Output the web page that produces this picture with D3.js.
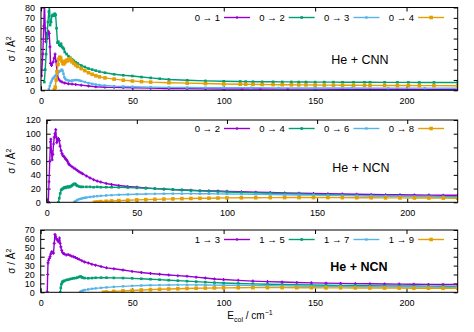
<!DOCTYPE html>
<html><head><meta charset="utf-8">
<script src="https://cdn.jsdelivr.net/npm/d3@7"></script>
<style>body{margin:0;background:#fff}svg{display:block;font-family:"Liberation Sans",Arial,sans-serif}</style>
</head><body><script>
// ---------- DATA ----------
const xTicks = [0, 50, 100, 150, 200];
const seriesColors = ['#9400d3', '#009e73', '#56b4e9', '#e69f00'];

// Panel 1: He + CNN  [E_col, sigma]
const cnnLabels = ['0 → 1', '0 → 2', '0 → 3', '0 → 4'];
const cnn01 = [[0.3,14],[1,35],[1.5,62],[1.9,86],[2.3,60],[2.6,47],[3,55],[3.5,50],[4,57],[4.5,55],[4.9,42],[5.2,26],[5.8,24],[6.5,27],[7.2,31],[7.7,35],[8.2,28],[8.8,18],[9.5,11],[10.5,9],[11.5,8],[13,7],[15,6.3],[17,6],[19,5.6],[22,5],[26,4.2],[30,3.4],[35,3],[40,2.8],[45,2.6],[50,2.5],[60,2.1],[70,1.8],[80,1.6],[90,1.4],[100,1.3],[110,1.2],[120,1.2],[135,1.1],[150,1.1],[165,1],[180,1],[195,1],[210,0.9],[228,0.9]];
const cnn02 = [[1.8,8],[2.3,20],[2.8,35],[3.3,52],[3.8,66],[4.3,76],[4.6,82],[5,63],[5.5,66],[6,72],[6.5,73],[7,72],[7.5,74],[8,73],[8.5,60],[9,46],[9.5,47],[10,44],[10.5,43],[11,45],[11.5,42],[12,41],[12.5,40],[13,37],[14,35],[15,33],[16,31.5],[17,30],[18,28.5],[19,27],[20,26],[22,24],[24,22.5],[26,21],[28,20],[30,19],[32,18],[35,17],[40,15.5],[45,14.5],[50,13.8],[55,12.8],[60,12],[65,11.2],[70,10.5],[80,9.7],[90,9.1],[100,8.7],[109,8.5],[112,8.4],[116,8.3],[121,8.2],[127,8.2],[132,8.1],[137,8.1],[141,8],[145,8],[150,7.9],[155,7.9],[160,7.9],[165,7.8],[171,7.8],[177,7.8],[180,7.8],[188,7.7],[195,7.7],[201,7.7],[207,7.6],[215,7.6],[228,7.6]];
const cnn03 = [[4.3,1],[4.8,4],[5.3,7],[5.8,9],[6.3,11],[6.8,12],[7.3,13],[7.8,14],[8.3,15],[8.8,16],[9.3,17],[9.8,18],[10.3,18.5],[10.8,19],[11.3,20],[11.8,19],[12.3,16],[12.8,12.5],[13.3,11],[14,10],[15,9.5],[16,9],[17,9.5],[18,9.7],[19,10],[20,9.8],[21,9.5],[22,9],[24,8],[26,7],[28,6.3],[30,5.6],[32,5.1],[35,4.6],[40,4],[45,3.7],[50,3.5],[60,3.1],[70,2.8],[80,2.7],[90,2.6],[100,2.5],[115,2.4],[130,2.3],[150,2.2],[170,2.2],[190,2.1],[210,2.1],[228,2]];
const cnn04 = [[7.3,0.5],[7.8,3],[8.3,10],[8.8,18],[9.3,25],[9.8,30],[10.3,32],[10.8,31],[11.5,28],[12,26],[12.5,25.5],[13,27],[13.5,28],[14,29],[14.5,28.5],[15,29.5],[15.5,30],[16,30.5],[16.5,29],[17,27.5],[18,26],[19,24.5],[20,23],[22,21],[24,19],[26,17],[28,15.5],[30,14],[32,13],[35,12],[40,10.8],[45,9.8],[50,9],[55,8.4],[60,7.9],[70,7.3],[80,6.9],[90,6.5],[100,6.1],[109,5.9],[112,5.8],[116,5.7],[121,5.6],[127,5.5],[132,5.4],[137,5.3],[141,5.2],[145,5.2],[150,5.1],[155,5],[160,5],[165,4.9],[171,4.9],[177,4.8],[180,4.8],[188,4.7],[195,4.6],[201,4.6],[207,4.5],[215,4.5],[228,4.4]];

// Panel 2: He + NCN (even)
const ncnEvenLabels = ['0 → 2', '0 → 4', '0 → 6', '0 → 8'];
const ncn02 = [[0.9,1],[1.3,30],[1.7,60],[2.1,88],[2.3,92],[2.6,75],[3,62],[3.4,70],[3.8,85],[4.2,95],[4.6,100],[5,106],[5.3,95],[5.6,87],[6,90],[6.5,93],[7,90],[7.4,82],[8,75],[8.5,71],[9,68],[9.5,67],[10,65],[10.5,63],[11,62],[11.5,60],[12,57],[12.5,55],[13,54],[14,52],[15,50],[16,48.5],[17,46.5],[18,44.5],[19,43],[20,41.5],[22,38.5],[24,35.5],[26,33],[28,31],[30,29.5],[33,27.5],[36,26],[40,24.5],[45,23],[50,22],[55,21],[60,20],[65,19.2],[70,18.5],[75,18],[80,17.5],[85,17],[90,16.7],[95,16.4],[100,16],[108,15.3],[116,14.7],[124,14.2],[132,13.7],[140,13.2],[148,12.8],[156,12.4],[164,12],[172,11.7],[180,11.4],[188,11.1],[196,10.9],[204,10.7],[212,10.5],[220,10.3],[228,10.2]];
const ncn04 = [[6.5,0],[7,6],[7.5,13],[8,18],[8.5,19],[9,20],[9.5,21],[10,22],[10.5,21],[11,22.5],[11.5,22],[12,23],[12.5,22],[13,23],[13.5,23.5],[14,24.5],[14.5,25.5],[15,26.5],[15.5,27],[16,26.5],[16.5,25],[17,24],[18,23],[19,22.5],[20,22.5],[22,22.5],[24,22.5],[26,22],[28,22.5],[30,22],[33,22],[36,22],[40,21.8],[45,21.5],[50,21],[55,20.5],[60,20],[65,19.3],[70,18.7],[75,18],[80,17.3],[85,16.7],[90,16],[95,15.5],[100,15],[108,14.3],[116,13.7],[124,13.1],[132,12.5],[140,12],[148,11.5],[156,11],[164,10.5],[172,10.1],[180,9.7],[188,9.3],[196,9],[204,8.7],[212,8.4],[220,8.2],[228,8]];
const ncn06 = [[15.2,0],[15.7,1],[16.2,2],[17,3.5],[18,4.5],[19,5.2],[20,6],[21,6.5],[22,7],[24,7.8],[26,8.4],[28,9],[30,9.4],[33,10],[36,10.4],[40,10.9],[45,11.4],[50,11.8],[55,12.1],[60,12.3],[65,12.5],[70,12.6],[75,12.6],[80,12.6],[85,12.5],[90,12.4],[95,12.3],[100,12.2],[108,11.9],[116,11.6],[124,11.3],[132,11],[140,10.7],[148,10.4],[156,10.1],[164,9.8],[172,9.5],[180,9.2],[188,8.9],[196,8.6],[204,8.3],[212,8],[220,7.8],[228,7.6]];
const ncn08 = [[26.5,0],[28,0.5],[30,1],[33,1.5],[36,2],[40,2.5],[45,3],[50,3.5],[55,3.9],[60,4.3],[65,4.7],[70,5],[75,5.3],[80,5.6],[85,5.8],[90,6],[95,6.2],[100,6.4],[108,6.6],[116,6.7],[124,6.8],[132,6.9],[140,6.9],[148,6.9],[156,6.9],[164,6.8],[172,6.7],[180,6.6],[188,6.5],[196,6.4],[204,6.3],[212,6.2],[220,6.1],[228,6]];

// Panel 3: He + NCN (odd)
const ncnOddLabels = ['1 → 3', '1 → 5', '1 → 7', '1 → 9'];
const ncn13 = [[3.6,0.5],[3.8,20],[4,33],[4.3,36],[4.7,38],[5.1,40],[5.5,43],[6,45.5],[6.5,45],[7,44],[7.4,55],[7.8,65],[8.2,63],[8.6,60],[9.1,59],[9.6,57],[10,58],[10.3,61],[10.6,55],[11,51],[11.5,47],[12,44.5],[12.5,43.5],[13,43],[14,42],[15,42.5],[16,41.5],[17,40.5],[18,40],[19,39],[20,38],[21,37],[22.5,35.5],[24,34],[26,33],[28,31.5],[30,30.5],[33,29],[36,27.5],[40,26.5],[45,25],[50,23.5],[55,22.3],[60,21.2],[65,20.3],[70,19.5],[75,18.7],[80,18],[85,17],[90,16],[95,15],[100,14.3],[108,13.4],[116,12.6],[124,12],[132,11.5],[140,11],[148,10.6],[156,10.3],[164,10],[172,9.8],[180,9.6],[188,9.4],[196,9.2],[204,9],[212,8.9],[220,8.8],[228,8.7]];
const ncn15 = [[10.7,0],[11,5],[11.3,9],[11.7,11],[12,12],[12.5,12.5],[13,13],[14,13.8],[15,14.2],[16,14.8],[17,15.3],[18,15.8],[19,16],[20,16.5],[21,17.3],[21.8,17.8],[22.5,17],[23,16.3],[24,16],[26,15.8],[28,16],[30,16.3],[33,16.5],[36,16.4],[40,16.2],[45,16],[50,15.7],[55,15.2],[60,14.7],[65,14.2],[70,13.6],[75,13.1],[80,12.5],[85,12],[90,11.4],[95,10.9],[100,10.4],[108,9.9],[116,9.5],[124,9.1],[132,8.8],[140,8.5],[148,8.2],[156,8],[164,7.8],[172,7.6],[180,7.4],[188,7.2],[196,7.1],[204,7],[212,6.9],[220,6.8],[228,6.7]];
const ncn17 = [[21.5,0],[22,1],[23,2],[24,2.6],[26,3.3],[28,3.9],[30,4.4],[33,5],[36,5.5],[40,6.1],[45,6.7],[50,7.2],[55,7.6],[60,7.9],[65,8.1],[70,8.2],[75,8.3],[80,8.3],[85,8.3],[90,8.2],[95,8.1],[100,8],[108,7.8],[116,7.6],[124,7.4],[132,7.2],[140,7],[148,6.8],[156,6.6],[164,6.5],[172,6.3],[180,6.2],[188,6.1],[196,6],[204,5.9],[212,5.8],[220,5.7],[228,5.6]];
const ncn19 = [[34.3,0],[36,0.4],[40,1],[45,1.6],[50,2.1],[55,2.6],[60,3],[65,3.4],[70,3.7],[75,4],[80,4.3],[85,4.5],[90,4.7],[95,4.9],[100,5],[108,5.1],[116,5.2],[124,5.2],[132,5.2],[140,5.1],[148,5.1],[156,5],[164,5],[172,4.9],[180,4.8],[188,4.8],[196,4.7],[204,4.6],[212,4.6],[220,4.5],[228,4.5]];

const panelTitles = ['He + CNN', 'He + NCN', 'He + NCN'];
const yMaxes = [80, 120, 70];
const yTickSteps = [10, 20, 10];

// ---------- LAYOUT ----------
const W = 474, H = 332;
const layout = [
  {left: 41, top: 7.5, bottom: 90.3, legendY: 17.5, titleX: 360, titleY: 64, bold: false},
  {left: 46.7, top: 120, bottom: 202.3, legendY: 128.5, titleX: 361, titleY: 172, bold: false},
  {left: 40.7, top: 230, bottom: 292.3, legendY: 239.5, titleX: 359, titleY: 271, bold: true}
];
const right = 457.7;
const panelData = [
  {labels: cnnLabels, series: [cnn01, cnn02, cnn03, cnn04]},
  {labels: ncnEvenLabels, series: [ncn02, ncn04, ncn06, ncn08]},
  {labels: ncnOddLabels, series: [ncn13, ncn15, ncn17, ncn19]}
];
const markerSize = [3, 2.6, 2.4, 3.6];
const tickFont = '9px';

const svg = d3.select('body').append('svg').attr('width', W).attr('height', H);
const defs = svg.append('defs');

function drawMarker(sel, i, cx, cy) {
  const s = markerSize[i];
  if (i === 0) {
    sel.append('path').attr('d', `M${cx - s/2},${cy}H${cx + s/2}M${cx},${cy - s/2}V${cy + s/2}`)
      .attr('stroke', seriesColors[i]).attr('stroke-width', 1.2);
  } else {
    sel.append('rect').attr('x', cx - s/2).attr('y', cy - s/2).attr('width', s).attr('height', s)
      .attr('fill', seriesColors[i]);
  }
}

layout.forEach((L, pi) => {
  const x = d3.scaleLinear().domain([0, 228]).range([L.left, right]);
  const y = d3.scaleLinear().domain([0, yMaxes[pi]]).range([L.bottom, L.top]);
  const yt = d3.range(0, yMaxes[pi] + 0.001, yTickSteps[pi]);
  const g = svg.append('g');

  const bx = g.append('g').attr('transform', `translate(0,${L.bottom})`)
    .call(d3.axisBottom(x).tickValues(xTicks).tickSize(-4).tickPadding(7));
  const tx = g.append('g').attr('transform', `translate(0,${L.top})`)
    .call(d3.axisTop(x).tickValues(xTicks).tickSize(-4).tickFormat(''));
  const ly = g.append('g').attr('transform', `translate(${L.left},0)`)
    .call(d3.axisLeft(y).tickValues(yt).tickSize(-4).tickPadding(6));
  const ry = g.append('g').attr('transform', `translate(${right},0)`)
    .call(d3.axisRight(y).tickValues(yt).tickSize(-4).tickFormat(''));
  [bx, tx, ly, ry].forEach(a => {
    a.select('.domain').remove();
    a.selectAll('text').attr('font-size', tickFont).attr('fill', '#000').attr('font-family', '"Liberation Sans",Arial,sans-serif');
    a.selectAll('line').attr('stroke', '#000');
  });

  const cid = 'clip' + pi;
  defs.append('clipPath').attr('id', cid).append('rect')
    .attr('x', L.left).attr('y', L.top).attr('width', right - L.left).attr('height', L.bottom - L.top);

  const plot = g.append('g').attr('clip-path', `url(#${cid})`);
  const line = d3.line().x(d => x(d[0])).y(d => y(d[1]));
  const pd = panelData[pi];
  pd.series.forEach((s, i) => {
    plot.append('path').datum(s).attr('d', line).attr('fill', 'none')
      .attr('stroke', seriesColors[i]).attr('stroke-width', 1.4).attr('stroke-linejoin', 'round');
    const mg = plot.append('g');
    s.forEach(d => drawMarker(mg, i, x(d[0]), y(d[1])));
  });

  // frame
  g.append('rect').attr('x', L.left).attr('y', L.top).attr('width', right - L.left).attr('height', L.bottom - L.top)
    .attr('fill', 'none').attr('stroke', '#000').attr('stroke-width', 1);

  // legend
  pd.labels.forEach((lab, i) => {
    const te = 220 + i * 64.7;
    g.append('text').attr('x', te).attr('y', L.legendY + 3.3).attr('text-anchor', 'end')
      .attr('font-size', '9.5px').text(lab);
    g.append('line').attr('x1', te + 4).attr('x2', te + 30).attr('y1', L.legendY).attr('y2', L.legendY)
      .attr('stroke', seriesColors[i]).attr('stroke-width', 1.4);
    drawMarker(g, i, te + 17, L.legendY);
  });

  // title
  g.append('text').attr('x', L.titleX).attr('y', L.titleY).attr('text-anchor', 'middle')
    .attr('font-size', '12.5px').attr('font-weight', L.bold ? 'bold' : 'normal').text(panelTitles[pi]);

  // y label
  const cy = (L.top + L.bottom) / 2;
  const yl = g.append('text').attr('transform', `translate(15,${cy}) rotate(-90)`)
    .attr('text-anchor', 'middle').attr('font-size', '10px');
  yl.append('tspan').text('σ / Å');
  yl.append('tspan').attr('dy', -4).attr('font-size', '7px').text('2');
});

// x label
const xl = svg.append('text').attr('x', 250).attr('y', 319).attr('text-anchor', 'middle').attr('font-size', '10px');
xl.append('tspan').text('E');
xl.append('tspan').attr('dy', 3).attr('font-size', '7px').text('col');
xl.append('tspan').attr('dy', -3).text(' / cm');
xl.append('tspan').attr('dy', -4).attr('font-size', '7px').text('−1');
</script></body></html>
